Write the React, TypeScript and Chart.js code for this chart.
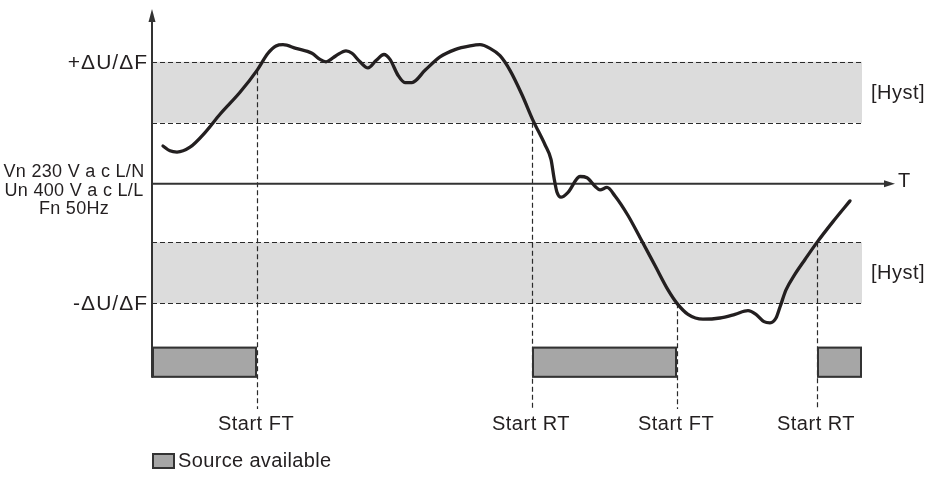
import React, { useEffect, useRef } from "react";
import { Chart, registerables } from "chart.js";

Chart.register(...registerables);

// Curve: time (arbitrary units) and normalised level (T axis = 0, threshold = ±1)
const curveT = [1.1, 1.8, 2.5, 3.8, 5.3, 6.8, 8.8, 10.5, 11.6, 12.4, 13.1, 14.4, 16.0, 16.8, 17.4, 18.4, 19.4, 20.0, 20.8, 21.6, 22.4, 23.2, 23.8, 24.6, 25.3, 26.0, 27.3, 28.8, 30.3, 31.8, 32.8, 33.8, 34.8, 35.8, 37.0, 38.1, 39.3, 39.9, 40.2, 40.5, 40.9, 41.6, 42.8, 43.5, 44.3, 44.8, 45.5, 46.3, 47.6, 48.8, 50.3, 51.6, 52.5, 53.6, 55.1, 56.8, 58.3, 59.6, 60.4, 61.2, 61.8, 62.4, 62.8, 63.4, 64.3, 65.3, 66.5, 68.1, 69.8];
const curveV = [0.31, 0.27, 0.26, 0.30, 0.42, 0.57, 0.75, 0.93, 1.07, 1.13, 1.14, 1.11, 1.07, 1.02, 1.00, 1.05, 1.09, 1.07, 1.00, 0.95, 1.01, 1.06, 1.02, 0.89, 0.83, 0.83, 0.93, 1.04, 1.10, 1.13, 1.14, 1.11, 1.05, 0.93, 0.73, 0.52, 0.32, 0.20, 0.05, -0.07, -0.11, -0.07, 0.06, 0.05, -0.02, -0.05, -0.03, -0.10, -0.26, -0.44, -0.67, -0.87, -0.98, -1.07, -1.11, -1.10, -1.07, -1.04, -1.07, -1.13, -1.14, -1.10, -1.01, -0.87, -0.74, -0.62, -0.48, -0.31, -0.14];

// Hysteresis bands [from, to] levels
const upperBand = [0.5, 1.0];
const lowerBand = [-0.98, -0.48];
const bandEndT = 71;

// Events
const eventT = [10.5, 38.0, 52.5, 66.5];
const eventFrom = [0.93, 0.5, -0.98, -0.48];
const eventLabels = ["Start FT", "Start RT", "Start FT", "Start RT"];

// Source available periods
const sourceStart = [0, 38.0, 66.5];
const sourceEnd = [10.5, 52.5, 71];
const sourceLevel = [-1.59, -1.335];

const upperLabel = "+ΔU/ΔF";
const lowerLabel = "-ΔU/ΔF";
const nominalLines = ["Vn 230 V a c L/N", "Un 400 V a c L/L", "Fn 50Hz"];
const hystLabel = "[Hyst]";
const timeLabel = "T";
const legendLabel = "Source available";

const INK = "#231f20";
const FONT = '"Liberation Sans", Arial, Helvetica, sans-serif';

const diagramPlugin = {
  id: "diagram",
  beforeDatasetsDraw(chart: any) {
    const { ctx, chartArea, scales } = chart;
    const xs = scales.x;
    const ys = scales.y;
    const x0 = xs.getPixelForValue(0);
    const xb = xs.getPixelForValue(bandEndT);
    ctx.save();
    ctx.fillStyle = "#dcdcdc";
    for (const b of [upperBand, lowerBand]) {
      const yTop = ys.getPixelForValue(b[1]);
      const yBot = ys.getPixelForValue(b[0]);
      ctx.fillRect(x0, yTop, xb - x0, yBot - yTop);
    }
    ctx.strokeStyle = "#2a2a2a";
    ctx.lineWidth = 1.2;
    ctx.setLineDash([5, 3]);
    for (const v of [upperBand[0], upperBand[1], lowerBand[0], lowerBand[1]]) {
      const y = Math.round(ys.getPixelForValue(v)) + 0.5;
      ctx.beginPath();
      ctx.moveTo(x0, y);
      ctx.lineTo(xb, y);
      ctx.stroke();
    }
    for (let i = 0; i < eventT.length; i++) {
      const x = Math.round(xs.getPixelForValue(eventT[i])) + 0.5;
      ctx.beginPath();
      ctx.moveTo(x, ys.getPixelForValue(eventFrom[i]));
      ctx.lineTo(x, chartArea.bottom + 30);
      ctx.stroke();
    }
    ctx.setLineDash([]);
    for (let i = 0; i < sourceStart.length; i++) {
      const a = xs.getPixelForValue(sourceStart[i]);
      const b = xs.getPixelForValue(sourceEnd[i]);
      const t = ys.getPixelForValue(sourceLevel[1]);
      const bt = ys.getPixelForValue(sourceLevel[0]);
      ctx.fillStyle = "#a6a6a6";
      ctx.fillRect(a, t, b - a, bt - t);
      ctx.strokeStyle = "#333";
      ctx.lineWidth = 2;
      ctx.strokeRect(a + 1, t + 1, b - a - 2, bt - t - 2);
    }
    ctx.strokeStyle = "#333";
    ctx.fillStyle = "#333";
    ctx.lineWidth = 2;
    const yAxis = ys.getPixelForValue(0);
    ctx.beginPath();
    ctx.moveTo(x0, yAxis);
    ctx.lineTo(chartArea.right - 8, yAxis);
    ctx.stroke();
    ctx.beginPath();
    ctx.moveTo(chartArea.right - 11, yAxis - 3.5);
    ctx.lineTo(chartArea.right, yAxis);
    ctx.lineTo(chartArea.right - 11, yAxis + 3.5);
    ctx.closePath();
    ctx.fill();
    const yb = ys.getPixelForValue(sourceLevel[0]);
    ctx.beginPath();
    ctx.moveTo(x0, yb);
    ctx.lineTo(x0, chartArea.top + 6);
    ctx.stroke();
    ctx.beginPath();
    ctx.moveTo(x0 - 3.5, chartArea.top + 9);
    ctx.lineTo(x0, chartArea.top - 4);
    ctx.lineTo(x0 + 3.5, chartArea.top + 9);
    ctx.closePath();
    ctx.fill();
    ctx.restore();
  },
  afterDraw(chart: any) {
    const { ctx, chartArea, scales } = chart;
    const xs = scales.x;
    const ys = scales.y;
    ctx.save();
    ctx.fillStyle = INK;
    const x0 = xs.getPixelForValue(0);
    const yAxis = ys.getPixelForValue(0);
    // threshold labels
    (ctx as any).letterSpacing = "1px";
    ctx.font = `21px ${FONT}`;
    ctx.textAlign = "right";
    ctx.textBaseline = "middle";
    ctx.fillText(upperLabel, x0 - 4, ys.getPixelForValue(upperBand[1]) + 1);
    ctx.fillText(lowerLabel, x0 - 4, ys.getPixelForValue(lowerBand[0]) + 1);
    // nominal label
    (ctx as any).letterSpacing = "0.3px";
    ctx.font = `18px ${FONT}`;
    ctx.textAlign = "center";
    ctx.textBaseline = "alphabetic";
    const offs = [-6.5, 12, 30.5];
    nominalLines.forEach((l, i) => ctx.fillText(l, 74, yAxis + offs[i]));
    // hyst labels
    (ctx as any).letterSpacing = "0.5px";
    ctx.font = `20px ${FONT}`;
    ctx.textAlign = "left";
    ctx.textBaseline = "middle";
    const xh = xs.getPixelForValue(bandEndT) + 9;
    for (const b of [upperBand, lowerBand]) {
      ctx.fillText(hystLabel, xh, ys.getPixelForValue((b[0] + b[1]) / 2) + 1);
    }
    ctx.fillText(timeLabel, chartArea.right + 3, yAxis - 2);
    // event labels
    ctx.font = `20px ${FONT}`;
    ctx.textAlign = "center";
    ctx.textBaseline = "alphabetic";
    for (let i = 0; i < eventT.length; i++) {
      ctx.fillText(eventLabels[i], xs.getPixelForValue(eventT[i]) - 1, chartArea.bottom + 51);
    }
    // legend
    ctx.fillStyle = "#a6a6a6";
    ctx.fillRect(x0, 453, 23, 16);
    ctx.strokeStyle = "#333";
    ctx.lineWidth = 2;
    ctx.strokeRect(x0 + 1, 454, 21, 14);
    ctx.fillStyle = INK;
    (ctx as any).letterSpacing = "0.35px";
    ctx.font = `20px ${FONT}`;
    ctx.textAlign = "left";
    ctx.fillText(legendLabel, x0 + 26, 467);
    ctx.restore();
  },
};

export default function App() {
  const ref = useRef<HTMLCanvasElement | null>(null);
  useEffect(() => {
    if (!ref.current) return;
    const chart = new Chart(ref.current, {
      type: "line",
      data: {
        datasets: [
          {
            data: curveT.map((t, i) => ({ x: t, y: curveV[i] })),
            borderColor: INK,
            borderWidth: 3.3,
            pointRadius: 0,
            cubicInterpolationMode: "monotone",
            borderCapStyle: "round",
            borderJoinStyle: "round",
            fill: false,
          },
        ],
      },
      options: {
        responsive: false,
        maintainAspectRatio: false,
        animation: false,
        devicePixelRatio: 1,
        layout: { padding: { left: 152, right: 32, top: 13, bottom: 105 } },
        scales: {
          x: { type: "linear", min: 0, max: 74.3, display: false },
          y: { type: "linear", min: -1.6, max: 1.4, display: false },
        },
        plugins: { legend: { display: false }, tooltip: { enabled: false } },
        events: [],
      },
      plugins: [diagramPlugin],
    } as any);
    return () => chart.destroy();
  }, []);
  return (
    <div style={{ position: "fixed", left: 0, top: 0, width: 927, height: 484, background: "#fff" }}>
      <canvas ref={ref} width={927} height={484} style={{ width: 927, height: 484, display: "block" }} />
    </div>
  );
}
